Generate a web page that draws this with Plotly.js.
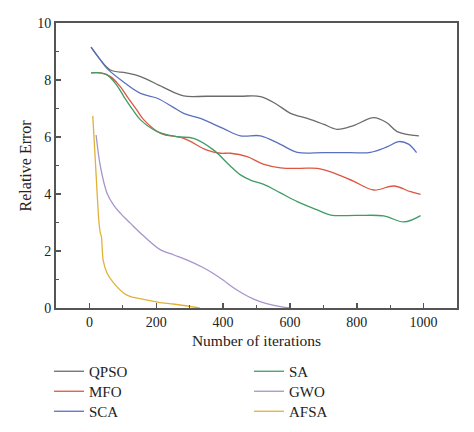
<!DOCTYPE html>
<html>
<head>
<meta charset="utf-8">
<script src="https://cdn.plot.ly/plotly-3.0.1.min.js"></script>
<style>
  html, body { margin: 0; padding: 0; background: #fff; }
  #chart { width: 474px; height: 432px; }
</style>
</head>
<body>
<div id="chart"></div>
<script>
// Convergence curves: relative error vs. number of iterations
const qpsoX = [5, 30, 63, 110, 153, 220, 282, 350, 450, 512, 560, 602, 652, 700, 741, 790, 851, 890, 921, 986];
const qpsoY = [9.15, 8.75, 8.35, 8.25, 8.12, 7.75, 7.44, 7.43, 7.43, 7.42, 7.15, 6.83, 6.65, 6.45, 6.27, 6.4, 6.68, 6.5, 6.19, 6.04];

const mfoX = [5, 33, 63, 90, 113, 140, 163, 213, 282, 352, 392, 422, 472, 520, 572, 630, 682, 722, 790, 851, 911, 961, 991];
const mfoY = [8.25, 8.25, 8.12, 7.8, 7.42, 6.98, 6.6, 6.13, 5.95, 5.54, 5.43, 5.43, 5.31, 5.05, 4.92, 4.9, 4.9, 4.78, 4.45, 4.14, 4.28, 4.08, 3.99];

const scaX = [5, 30, 53, 100, 153, 203, 250, 282, 332, 400, 452, 512, 570, 622, 700, 780, 841, 890, 926, 955, 979];
const scaY = [9.15, 8.75, 8.4, 7.95, 7.53, 7.36, 7.05, 6.83, 6.65, 6.3, 6.04, 6.04, 5.75, 5.46, 5.45, 5.45, 5.46, 5.65, 5.84, 5.75, 5.45];

const saX = [5, 30, 53, 80, 103, 130, 153, 203, 263, 312, 372, 420, 452, 482, 522, 570, 622, 680, 722, 800, 881, 941, 991];
const saY = [8.25, 8.25, 8.18, 7.85, 7.42, 6.95, 6.6, 6.19, 6.01, 5.95, 5.54, 5.0, 4.67, 4.49, 4.34, 4.05, 3.73, 3.45, 3.26, 3.25, 3.23, 3.02, 3.24];

const gwoX = [20, 33, 53, 73, 93, 123, 160, 213, 253, 293, 340, 372, 400, 430, 460, 490, 530, 572, 602];
const gwoY = [6.07, 4.96, 4.02, 3.6, 3.32, 2.97, 2.55, 2.04, 1.86, 1.68, 1.42, 1.2, 0.98, 0.72, 0.5, 0.32, 0.15, 0.05, 0.0];

const afsaX = [10, 19, 28, 33, 36, 41, 53, 73, 103, 123, 173, 207, 250, 293, 330];
const afsaY = [6.74, 4.9, 3.09, 2.62, 2.5, 1.68, 1.22, 0.87, 0.52, 0.4, 0.28, 0.2, 0.14, 0.07, 0.0];

const xTickStep = 200;
const yTickStep = 2;
const yTitle = "Relative Error";

const serif = "Liberation Serif, Times New Roman, serif";
const axisColor = "#555555";

function curve(name, x, y, color, legend, smoothing) {
  return {
    type: "scatter", mode: "lines", name: name, x: x, y: y,
    legend: legend,
    line: { color: color, width: 1.3, shape: "spline", smoothing: smoothing },
    cliponaxis: true,
    hoverinfo: "skip"
  };
}

// One legend per entry so the two columns sit on an even 20px row pitch
const traces = [
  curve("QPSO", qpsoX, qpsoY, "#6b6b6b", "legend", 1),
  curve("MFO", mfoX, mfoY, "#dc5640", "legend2", 1),
  curve("SCA", scaX, scaY, "#5a6fc0", "legend3", 1),
  curve("SA", saX, saY, "#3f9c66", "legend4", 1),
  curve("GWO", gwoX, gwoY, "#a894cc", "legend5", 1),
  curve("AFSA", afsaX, afsaY, "#e0b23a", "legend6", 0.6)
];

function legendAt(x, y) {
  return {
    xref: "container", yref: "container",
    x: x, y: y,
    xanchor: "left", yanchor: "top",
    orientation: "v",
    font: { family: serif, size: 15, color: "#222" },
    bgcolor: "rgba(0,0,0,0)",
    borderwidth: 0
  };
}

const col1 = 49 / 474, col2 = 249 / 474;
const rowTop = [355 / 432, 375 / 432, 395 / 432].map(v => 1 - v);

const layout = {
  width: 474, height: 432,
  margin: { l: 56, r: 17, t: 23, b: 124, autoexpand: false },
  paper_bgcolor: "#ffffff",
  plot_bgcolor: "#ffffff",
  font: { family: serif, size: 14, color: "#222" },
  showlegend: true,
  legend: legendAt(col1, rowTop[0]),
  legend2: legendAt(col1, rowTop[1]),
  legend3: legendAt(col1, rowTop[2]),
  legend4: legendAt(col2, rowTop[0]),
  legend5: legendAt(col2, rowTop[1]),
  legend6: legendAt(col2, rowTop[2]),
  // vertical axis title, set beside the tick labels
  annotations: [{
    text: yTitle, textangle: -90,
    xref: "paper", yref: "paper", x: -0.075, y: 0.5,
    xanchor: "center", yanchor: "middle", showarrow: false,
    font: { family: serif, size: 16, color: "#222" }
  }],
  xaxis: {
    range: [-100, 1100],
    tick0: 0, dtick: xTickStep,
    ticks: "inside", ticklen: 5, tickwidth: 1.5, tickcolor: axisColor,
    minor: { dtick: xTickStep / 2, ticks: "inside", ticklen: 3, tickwidth: 1.2, tickcolor: axisColor, showgrid: false },
    showline: true, linecolor: axisColor, linewidth: 2, mirror: true,
    showgrid: false, zeroline: false,
    tickfont: { family: serif, size: 14, color: "#222" },
    title: { text: "Number of iterations", font: { family: serif, size: 15.5, color: "#222" }, standoff: 6 }
  },
  yaxis: {
    range: [0, 10],
    tick0: 0, dtick: yTickStep,
    ticks: "inside", ticklen: 5, tickwidth: 1.5, tickcolor: axisColor,
    minor: { dtick: yTickStep / 2, ticks: "inside", ticklen: 3, tickwidth: 1.2, tickcolor: axisColor, showgrid: false },
    showline: true, linecolor: axisColor, linewidth: 2, mirror: true,
    showgrid: false, zeroline: false,
    tickfont: { family: serif, size: 14, color: "#222" }
  }
};

Plotly.newPlot("chart", traces, layout, { displayModeBar: false, staticPlot: true });
</script>
</body>
</html>
